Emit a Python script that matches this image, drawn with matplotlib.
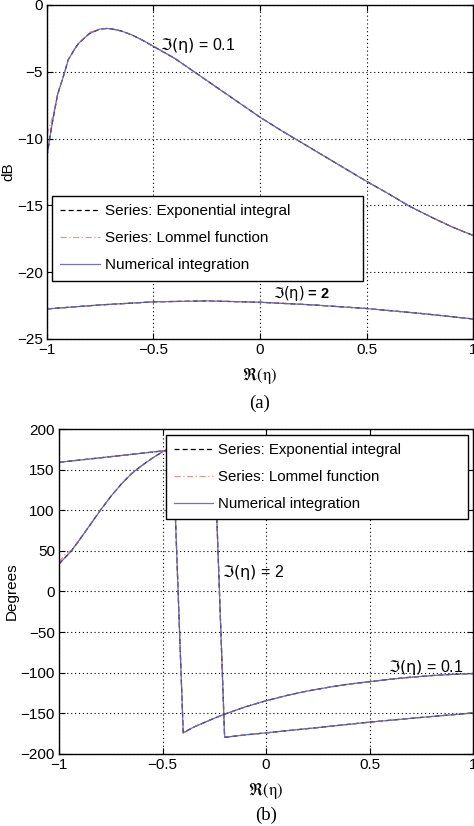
import matplotlib.pyplot as plt

plt.rcParams['font.family'] = ['Liberation Sans', 'DejaVu Sans']

# ---- (a) magnitude, dB ----
x_mag_01 = [-1.0, -0.98, -0.97, -0.95, -0.92, -0.9, -0.87, -0.85, -0.8, -0.75, -0.72, -0.7,
            -0.65, -0.6, -0.55, -0.5, -0.4, -0.3, -0.2, -0.1, 0.0, 0.1, 0.2, 0.3, 0.4, 0.5,
            0.6, 0.7, 0.8, 0.9, 1.0]
mag_01 = [-11.35, -9.3, -8.4, -6.7, -5.2, -4.1, -3.3, -2.85, -2.13, -1.8, -1.76, -1.78,
          -1.95, -2.25, -2.65, -3.1, -4.0, -5.1, -6.2, -7.3, -8.4, -9.4, -10.35, -11.3, -12.25,
          -13.2, -14.1, -15.05, -15.85, -16.6, -17.25]
mag_01_lommel = [-9.7, -8.7, -8.2, -6.7, -5.2, -4.1, -3.3, -2.85, -2.05, -1.78, -1.76, -1.78,
                 -1.95, -2.25, -2.65, -3.1, -4.0, -5.1, -6.2, -7.3, -8.4, -9.4, -10.35, -11.3,
                 -12.25, -13.2, -14.1, -15.05, -15.85, -16.6, -17.25]

x_mag_2 = [-1.0, -0.75, -0.5, -0.25, 0.0, 0.25, 0.5, 0.75, 1.0]
mag_2 = [-22.75, -22.45, -22.22, -22.15, -22.25, -22.45, -22.72, -23.08, -23.5]

# ---- (b) phase, degrees ----
x_ph_01 = [-1.0, -0.97, -0.94, -0.9, -0.85, -0.8, -0.75, -0.7, -0.65, -0.6, -0.55, -0.5,
           -0.45, -0.4, -0.35, -0.3, -0.25, -0.2, -0.1, 0.0, 0.1, 0.2, 0.3, 0.4, 0.5, 0.6,
           0.7, 0.8, 0.9, 1.0]
ph_01 = [34, 42, 50, 64, 82, 100, 117, 132, 145, 155, 164, 172,
         178, -174, -167, -161.5, -156, -151, -142, -134.5, -128, -122.5, -118, -114, -111,
         -108, -105.5, -103.5, -102, -101]
ph_01_lommel = [36, 46, 51, 64, 82, 100, 117, 132, 145, 155, 164, 172,
                178, -174, -167, -161.5, -156, -151, -142, -134.5, -128, -122.5, -118, -114,
                -111, -108, -105.5, -103.5, -102, -101]

x_ph_2 = [-1.0, -0.75, -0.5, -0.25, -0.2, -0.1, 0.0, 0.25, 0.5, 0.75, 1.0]
ph_2 = [159, 166, 173, 178.5, -179.5, -176.5, -174, -167.5, -160.8, -155, -149.5]

labels = ["Series: Exponential integral", "Series: Lommel function", "Numerical integration"]
c_exp = "black"
c_lom = "#e09a9a"
c_num = "#5a5aaa"

fig = plt.figure(figsize=(4.74, 8.26), dpi=100)
ax1 = fig.add_axes([0.099, 0.5896, 0.899, 0.4044])
ax2 = fig.add_axes([0.1245, 0.0872, 0.8735, 0.3934])


def draw(ax, x, y_exp, y_lom, with_label):
    lab = labels if with_label else [None, None, None]
    ax.plot(x, y_exp, color=c_exp, lw=0.9, ls=(0, (4, 2.5)), label=lab[0])
    ax.plot(x, y_lom, color=c_lom, lw=0.9, ls=(0, (5, 2, 1, 2)), label=lab[1])
    ax.plot(x, y_exp, color=c_num, lw=0.9, alpha=0.85, label=lab[2])


draw(ax1, x_mag_01, mag_01, mag_01_lommel, True)
draw(ax1, x_mag_2, mag_2, mag_2, False)
draw(ax2, x_ph_01, ph_01, ph_01_lommel, True)
draw(ax2, x_ph_2, ph_2, ph_2, False)

for ax in (ax1, ax2):
    ax.set_xlim(-1, 1)
    ax.set_xticks([-1, -0.5, 0, 0.5, 1])
    ax.set_xticklabels(["\u22121", "\u22120.5", "0", "0.5", "1"])
    ax.grid(True, color="black", ls=(0, (1, 2.5)), lw=0.8)
    ax.tick_params(direction="in", top=True, right=True, labelsize=11, length=4, pad=3)
    for s in ax.spines.values():
        s.set_linewidth(1.0)
    ax.set_xlabel(r"$\Re(\mathrm{\eta})$", fontsize=12, math_fontfamily="stix", labelpad=6)

ax1.set_ylim(-25, 0)
ax1.set_yticks(range(-25, 1, 5))
ax1.set_ylabel("dB", fontsize=11, labelpad=1)
ax2.set_ylim(-200, 200)
ax2.set_yticks(range(-200, 201, 50))
ax2.set_ylabel("Degrees", fontsize=11, labelpad=1)

ax1.text(-0.47, -3.0, r"$\Im(\mathrm{\eta})$ = 0.1", fontsize=11.5, va="center")
ax1.text(0.06, -21.6, r"$\Im(\mathrm{\eta})$ = 2", fontsize=10.5, fontweight="bold", va="center")
ax2.text(-0.215, 23, r"$\Im(\mathrm{\eta})$ = 2", fontsize=11.5, va="center")
ax2.text(0.59, -94, r"$\Im(\mathrm{\eta})$ = 0.1", fontsize=11.5, va="center")

leg_kw = dict(loc="upper left", mode="expand", fancybox=False, framealpha=1,
              edgecolor="black", handlelength=2.6, handletextpad=0.3,
              labelspacing=0.85, borderpad=0.55, borderaxespad=0)
l1 = ax1.legend(bbox_to_anchor=(0.0117, 0.171, 0.7303, 0.257), fontsize=11, **leg_kw)
l2 = ax2.legend(bbox_to_anchor=(0.2585, 0.5, 0.7295, 0.4815), fontsize=10.8, **leg_kw)
for l in (l1, l2):
    l.get_frame().set_linewidth(1.0)

fig.text(0.5 * (0.099 + 0.998), 1 - 403 / 826, "(a)", ha="center", va="center",
         fontsize=13.5, family="Liberation Serif")
fig.text(0.5 * (0.1245 + 0.998), 1 - 815 / 826, "(b)", ha="center", va="center",
         fontsize=13.5, family="Liberation Serif")

fig.savefig("out.png", dpi=100)
